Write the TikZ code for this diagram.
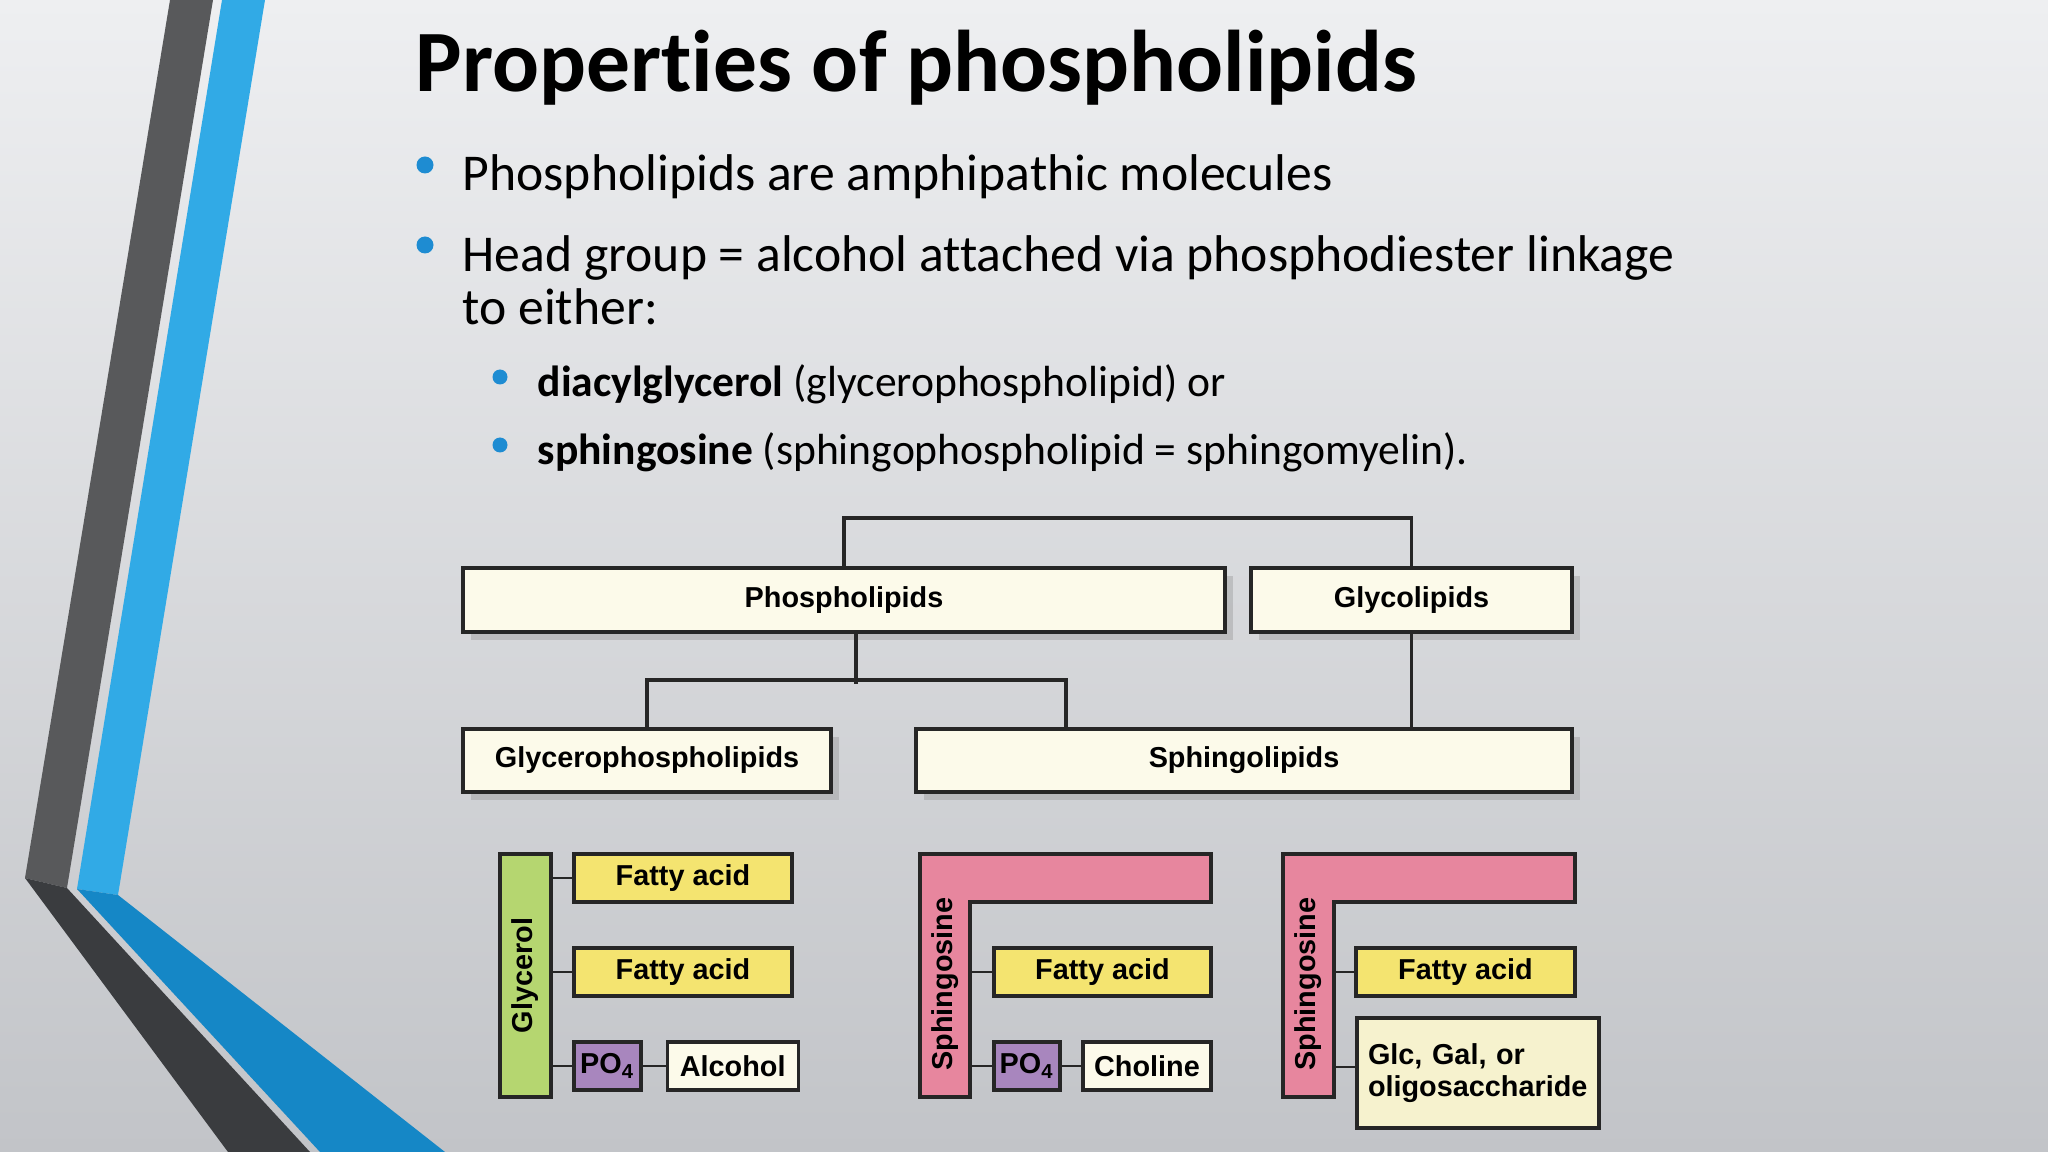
\documentclass[tikz,border=0pt]{standalone}
\usepackage{fontspec}
\setmainfont{Carlito}[Ligatures=NoCommon]
\newfontfamily\figfont{Liberation Sans}
\usetikzlibrary{positioning,shadows}

\definecolor{bgtop}{RGB}{238,239,241}
\definecolor{bgbot}{RGB}{194,196,200}
\definecolor{stripegray}{RGB}{88,89,91}
\definecolor{stripedark}{RGB}{58,60,63}
\definecolor{stripeblue}{RGB}{49,170,230}
\definecolor{stripedeep}{RGB}{21,135,198}
\definecolor{dotblue}{RGB}{30,140,210}
\definecolor{ivory}{RGB}{252,250,234}
\definecolor{fatty}{RGB}{244,228,112}
\definecolor{glycgreen}{RGB}{181,214,112}
\definecolor{sphpink}{RGB}{231,134,158}
\definecolor{phosviolet}{RGB}{168,134,190}
\definecolor{sugar}{RGB}{246,242,206}
\definecolor{edge}{RGB}{38,38,38}

\begin{document}
\begin{tikzpicture}[
  y=-1cm,
  box/.style={draw=edge, line width=1pt, fill=ivory, inner sep=0pt,
    font=\figfont\bfseries\fontsize{8.2}{9}\selectfont,
    drop shadow={shadow xshift=0.08cm, shadow yshift=-0.08cm, opacity=0.3}},
  part/.style={draw=edge, line width=0.9pt, inner sep=0pt, minimum height=0.48cm,
    font=\figfont\bfseries\fontsize{8.2}{9}\selectfont},
  link/.style={draw=edge, line width=1pt},
  bond/.style={draw=edge, line width=0.8pt},
  dot/.style={circle, fill=dotblue, inner sep=0pt, minimum size=0.17cm},
  txt/.style={anchor=base west, inner sep=0pt}
]
  % slide background and side stripes
  \shade[top color=bgtop, bottom color=bgbot] (0,0) rectangle (20.48,11.52);
  \useasboundingbox (0,0) rectangle (20.48,11.52);
  \fill[stripegray] (1.70,0) -- (2.13,0) -- (0.67,8.88) -- (0.25,8.78) -- cycle;
  \fill[stripedark] (0.25,8.78) -- (0.67,8.88) -- (3.10,11.52) -- (2.28,11.52) -- cycle;
  \fill[stripeblue] (2.22,0) -- (2.65,0) -- (1.18,8.95) -- (0.77,8.89) -- cycle;
  \fill[stripedeep] (0.77,8.89) -- (1.18,8.95) -- (4.45,11.52) -- (3.20,11.52) -- cycle;

  % title and bullets
  \node[txt, font=\bfseries\fontsize{24.9}{29}\selectfont] (title) at (4.15,0.92) {Properties of phospholipids};
  \node[dot] (d1) at (4.25,1.65) {};
  \node[txt, font=\fontsize{14.7}{17}\selectfont] (t1) at (4.62,1.91) {Phospholipids are amphipathic molecules};
  \node[dot] (d2) at (4.25,2.45) {};
  \node[txt, font=\fontsize{14.7}{17}\selectfont] (t2) at (4.62,2.72) {Head group = alcohol attached via phosphodiester linkage};
  \node[txt, font=\fontsize{14.7}{17}\selectfont] (t2b) at (4.62,3.25) {to either:};
  \node[dot, minimum size=0.15cm] (d3) at (5.00,3.77) {};
  \node[txt, font=\fontsize{12.4}{15}\selectfont] (t3) at (5.37,3.97) {\textbf{diacylglycerol} (glycerophospholipid) or};
  \node[dot, minimum size=0.15cm] (d4) at (5.00,4.45) {};
  \node[txt, font=\fontsize{12.4}{15}\selectfont] (t4) at (5.37,4.65) {\textbf{sphingosine} (sphingophospholipid = sphingomyelin).};

  % classification tree
  \node[box, minimum width=7.62cm, minimum height=0.64cm] (phos) at (8.44,6.00) {Phospholipids};
  \node[box, minimum width=3.21cm, minimum height=0.64cm] (glyco) at (14.115,6.00) {Glycolipids};
  \node[box, minimum width=3.68cm, minimum height=0.63cm] (gp) at (6.47,7.605) {Glycerophospholipids};
  \node[box, minimum width=6.56cm, minimum height=0.63cm] (sph) at (12.44,7.605) {Sphingolipids};

  \draw[link] (phos.north) -- ++(0,-0.48) -| (glyco.north);
  \draw[link] ([xshift=0.12cm]phos.south) -- ++(0,0.50);
  \draw[link] (gp.north) -- ++(0,-0.47) -| ([xshift=-1.78cm]sph.north);
  \draw[link] (glyco.south) -- (glyco.south |- sph.north);

  % glycerophospholipid
  \node[part, fill=glycgreen, minimum width=0.51cm, minimum height=2.43cm] (gly) at (5.255,9.755) {\rotatebox{90}{Glycerol}};
  \node[part, fill=fatty, minimum width=2.18cm] (fa1) at (6.83,8.78) {Fatty acid};
  \node[part, fill=fatty, minimum width=2.18cm] (fa2) at (6.83,9.72) {Fatty acid};
  \node[part, fill=phosviolet, minimum width=0.67cm] (po1) at (6.075,10.66) {PO\textsubscript{4}};
  \node[part, fill=ivory, minimum width=1.31cm, right=0.23cm of po1] (alc) {Alcohol};
  \draw[bond] (gly.east |- fa1) -- (fa1);
  \draw[bond] (gly.east |- fa2) -- (fa2);
  \draw[bond] (gly.east |- po1) -- (po1);
  \draw[bond] (po1) -- (alc);

  % sphingomyelin
  \filldraw[fill=sphpink, draw=edge, line width=0.9pt] (9.20,8.54) -- (12.11,8.54) -- (12.11,9.02) -- (9.70,9.02) -- (9.70,10.97) -- (9.20,10.97) -- cycle;
  \node[inner sep=0pt, minimum width=0.5cm, minimum height=2.26cm, font=\figfont\bfseries\fontsize{8.2}{9}\selectfont] (sb1) at (9.45,9.84) {\rotatebox{90}{Sphingosine}};
  \node[part, fill=fatty, minimum width=2.17cm] (fa3) at (11.025,9.72) {Fatty acid};
  \node[part, fill=phosviolet, minimum width=0.66cm] (po2) at (10.27,10.66) {PO\textsubscript{4}};
  \node[part, fill=ivory, minimum width=1.28cm] (cho) at (11.47,10.66) {Choline};
  \draw[bond] (sb1.east |- fa3) -- (fa3);
  \draw[bond] (sb1.east |- po2) -- (po2);
  \draw[bond] (po2) -- (cho);

  % glycosphingolipid
  \filldraw[fill=sphpink, draw=edge, line width=0.9pt] (12.83,8.54) -- (15.75,8.54) -- (15.75,9.02) -- (13.34,9.02) -- (13.34,10.97) -- (12.83,10.97) -- cycle;
  \node[inner sep=0pt, minimum width=0.51cm, minimum height=2.26cm, font=\figfont\bfseries\fontsize{8.2}{9}\selectfont] (sb2) at (13.085,9.84) {\rotatebox{90}{Sphingosine}};
  \node[part, fill=fatty, minimum width=2.19cm] (fa4) at (14.655,9.72) {Fatty acid};
  \node[part, fill=sugar, minimum width=2.42cm, minimum height=1.10cm, inner xsep=0.11cm,
    text width=2.20cm, align=left] (sug) at (14.78,10.73) {Glc, Gal, or\\oligosaccharide};
  \draw[bond] (sb2.east |- fa4) -- (fa4);
  \draw[bond] (sb2.east |- 0,10.67) -- (sug.west |- 0,10.67);
\end{tikzpicture}
\end{document}
